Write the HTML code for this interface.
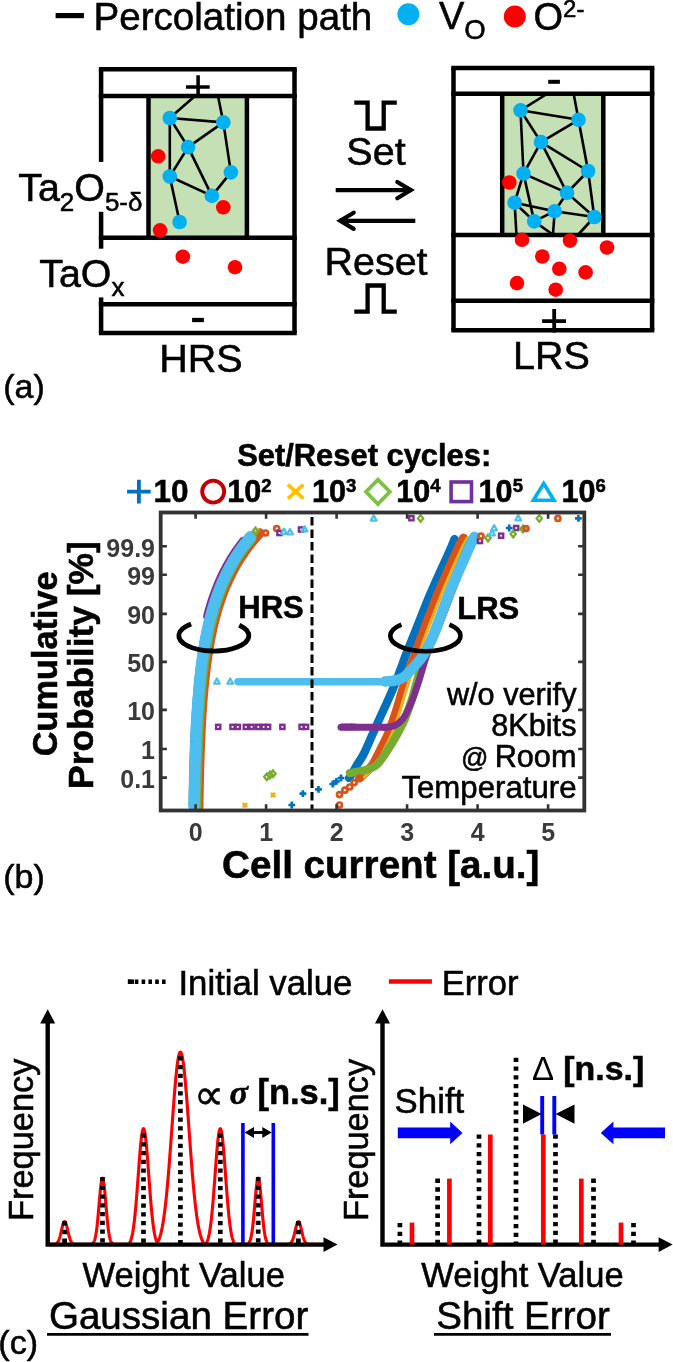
<!DOCTYPE html>
<html><head><meta charset="utf-8"><title>Figure</title>
<style>html,body{margin:0;padding:0;background:#fff}svg{display:block}text{font-family:"Liberation Sans",sans-serif;fill:#000;stroke:#000;stroke-width:0.55px}</style>
</head><body>
<svg width="673" height="1362" viewBox="0 0 673 1362">
<rect width="673" height="1362" fill="#fff"/>
<g id="panel-a">
<line x1="55.6" y1="15.6" x2="83.9" y2="15.6" stroke="#000" stroke-width="5.2"/>
<text x="93.5" y="29.7" font-size="38.6">Percolation path</text>
<circle cx="408.4" cy="14.2" r="11" fill="#00B0F0"/>
<text x="439" y="29" font-size="38">V<tspan font-size="27.5" dy="10">O</tspan></text>
<circle cx="514.8" cy="16.5" r="11" fill="#FF0000"/>
<text x="533.5" y="29.7" font-size="38">O<tspan font-size="24" dy="-13">2-</tspan></text>
<rect x="148.5" y="96" width="98.4" height="141.7" fill="#C5E0B4"/>
<rect x="502.2" y="93.8" width="101.09999999999997" height="141.10000000000002" fill="#C5E0B4"/>
<line x1="195" y1="96" x2="169.8" y2="118" stroke="#000" stroke-width="2.6"/>
<line x1="218" y1="96" x2="223.3" y2="122.4" stroke="#000" stroke-width="2.6"/>
<line x1="169.8" y1="118" x2="223.3" y2="122.4" stroke="#000" stroke-width="2.6"/>
<line x1="169.8" y1="118" x2="188.1" y2="147.1" stroke="#000" stroke-width="2.6"/>
<line x1="223.3" y1="122.4" x2="188.1" y2="147.1" stroke="#000" stroke-width="2.6"/>
<line x1="169.8" y1="118" x2="169.8" y2="176.5" stroke="#000" stroke-width="2.6"/>
<line x1="188.1" y1="147.1" x2="169.8" y2="176.5" stroke="#000" stroke-width="2.6"/>
<line x1="188.1" y1="147.1" x2="211.9" y2="195.9" stroke="#000" stroke-width="2.6"/>
<line x1="223.3" y1="122.4" x2="230.9" y2="172.4" stroke="#000" stroke-width="2.6"/>
<line x1="230.9" y1="172.4" x2="211.9" y2="195.9" stroke="#000" stroke-width="2.6"/>
<line x1="169.8" y1="176.5" x2="211.9" y2="195.9" stroke="#000" stroke-width="2.6"/>
<line x1="169.8" y1="176.5" x2="179.6" y2="222" stroke="#000" stroke-width="2.6"/>
<line x1="548.5" y1="93" x2="520.5" y2="110.3" stroke="#000" stroke-width="2.6"/>
<line x1="573.5" y1="93" x2="578.5" y2="119.8" stroke="#000" stroke-width="2.6"/>
<line x1="520.5" y1="110.3" x2="578.5" y2="119.8" stroke="#000" stroke-width="2.6"/>
<line x1="520.5" y1="110.3" x2="541" y2="142.1" stroke="#000" stroke-width="2.6"/>
<line x1="578.5" y1="119.8" x2="541" y2="142.1" stroke="#000" stroke-width="2.6"/>
<line x1="520.5" y1="110.3" x2="523.5" y2="173.6" stroke="#000" stroke-width="2.6"/>
<line x1="541" y1="142.1" x2="523.5" y2="173.6" stroke="#000" stroke-width="2.6"/>
<line x1="541" y1="142.1" x2="567" y2="192.9" stroke="#000" stroke-width="2.6"/>
<line x1="541" y1="142.1" x2="588.1" y2="171" stroke="#000" stroke-width="2.6"/>
<line x1="578.5" y1="119.8" x2="588.1" y2="171" stroke="#000" stroke-width="2.6"/>
<line x1="588.1" y1="171" x2="567" y2="192.9" stroke="#000" stroke-width="2.6"/>
<line x1="523.5" y1="173.6" x2="567" y2="192.9" stroke="#000" stroke-width="2.6"/>
<line x1="588.1" y1="171" x2="594.3" y2="217" stroke="#000" stroke-width="2.6"/>
<line x1="567" y1="192.9" x2="594.3" y2="217" stroke="#000" stroke-width="2.6"/>
<line x1="567" y1="192.9" x2="554.7" y2="211.2" stroke="#000" stroke-width="2.6"/>
<line x1="523.5" y1="173.6" x2="514.6" y2="202.7" stroke="#000" stroke-width="2.6"/>
<line x1="523.5" y1="173.6" x2="534.2" y2="221.4" stroke="#000" stroke-width="2.6"/>
<line x1="514.6" y1="202.7" x2="554.7" y2="211.2" stroke="#000" stroke-width="2.6"/>
<line x1="554.7" y1="211.2" x2="594.3" y2="217" stroke="#000" stroke-width="2.6"/>
<line x1="514.6" y1="202.7" x2="534.2" y2="221.4" stroke="#000" stroke-width="2.6"/>
<line x1="554.7" y1="211.2" x2="534.2" y2="221.4" stroke="#000" stroke-width="2.6"/>
<line x1="514.6" y1="202.7" x2="516.4" y2="234" stroke="#000" stroke-width="2.6"/>
<line x1="534.2" y1="221.4" x2="552" y2="234" stroke="#000" stroke-width="2.6"/>
<line x1="554.7" y1="211.2" x2="553" y2="234" stroke="#000" stroke-width="2.6"/>
<line x1="594.3" y1="217" x2="578.8" y2="234" stroke="#000" stroke-width="2.6"/>
<line x1="98.85" y1="69.2" x2="296.75" y2="69.2" stroke="#000" stroke-width="4.5" fill="none"/>
<line x1="98.85" y1="96" x2="296.75" y2="96" stroke="#000" stroke-width="4.5" fill="none"/>
<line x1="98.85" y1="237.7" x2="296.75" y2="237.7" stroke="#000" stroke-width="4.5" fill="none"/>
<line x1="98.85" y1="304.3" x2="296.75" y2="304.3" stroke="#000" stroke-width="4.5" fill="none"/>
<line x1="98.85" y1="333" x2="296.75" y2="333" stroke="#000" stroke-width="4.5" fill="none"/>
<line x1="294.5" y1="69.2" x2="294.5" y2="333" stroke="#000" stroke-width="4.5" fill="none"/>
<line x1="101.1" y1="69.2" x2="101.1" y2="161.9" stroke="#000" stroke-width="4.5" fill="none"/>
<line x1="101.1" y1="211.8" x2="101.1" y2="248.7" stroke="#000" stroke-width="4.5" fill="none"/>
<line x1="101.1" y1="297.4" x2="101.1" y2="333" stroke="#000" stroke-width="4.5" fill="none"/>
<line x1="148.5" y1="96" x2="148.5" y2="237.7" stroke="#000" stroke-width="4.5" fill="none"/>
<line x1="246.9" y1="96" x2="246.9" y2="237.7" stroke="#000" stroke-width="4.5" fill="none"/>
<line x1="451.25" y1="68" x2="654.35" y2="68" stroke="#000" stroke-width="4.5" fill="none"/>
<line x1="451.25" y1="93.8" x2="654.35" y2="93.8" stroke="#000" stroke-width="4.5" fill="none"/>
<line x1="451.25" y1="234.9" x2="654.35" y2="234.9" stroke="#000" stroke-width="4.5" fill="none"/>
<line x1="451.25" y1="300.8" x2="654.35" y2="300.8" stroke="#000" stroke-width="4.5" fill="none"/>
<line x1="451.25" y1="330.3" x2="654.35" y2="330.3" stroke="#000" stroke-width="4.5" fill="none"/>
<line x1="652.1" y1="68" x2="652.1" y2="330.3" stroke="#000" stroke-width="4.5" fill="none"/>
<line x1="453.5" y1="68" x2="453.5" y2="330.3" stroke="#000" stroke-width="4.5" fill="none"/>
<line x1="502.2" y1="93.8" x2="502.2" y2="234.9" stroke="#000" stroke-width="4.5" fill="none"/>
<line x1="603.3" y1="93.8" x2="603.3" y2="234.9" stroke="#000" stroke-width="4.5" fill="none"/>
<circle cx="169.8" cy="118" r="7.3" fill="#00B0F0"/>
<circle cx="223.3" cy="122.4" r="7.3" fill="#00B0F0"/>
<circle cx="188.1" cy="147.1" r="7.3" fill="#00B0F0"/>
<circle cx="169.8" cy="176.5" r="7.3" fill="#00B0F0"/>
<circle cx="230.9" cy="172.4" r="7.3" fill="#00B0F0"/>
<circle cx="211.9" cy="195.9" r="7.3" fill="#00B0F0"/>
<circle cx="179.6" cy="222" r="7.3" fill="#00B0F0"/>
<circle cx="520.5" cy="110.3" r="7.3" fill="#00B0F0"/>
<circle cx="578.5" cy="119.8" r="7.3" fill="#00B0F0"/>
<circle cx="541" cy="142.1" r="7.3" fill="#00B0F0"/>
<circle cx="523.5" cy="173.6" r="7.3" fill="#00B0F0"/>
<circle cx="588.1" cy="171" r="7.3" fill="#00B0F0"/>
<circle cx="567" cy="192.9" r="7.3" fill="#00B0F0"/>
<circle cx="514.6" cy="202.7" r="7.3" fill="#00B0F0"/>
<circle cx="554.7" cy="211.2" r="7.3" fill="#00B0F0"/>
<circle cx="534.2" cy="221.4" r="7.3" fill="#00B0F0"/>
<circle cx="594.3" cy="217" r="7.3" fill="#00B0F0"/>
<circle cx="158.2" cy="156.3" r="7.3" fill="#FF0000"/>
<circle cx="223.3" cy="207.3" r="7.3" fill="#FF0000"/>
<circle cx="160.1" cy="230.3" r="7.3" fill="#FF0000"/>
<circle cx="182.8" cy="256.7" r="7.3" fill="#FF0000"/>
<circle cx="235" cy="267.2" r="7.3" fill="#FF0000"/>
<circle cx="509.3" cy="182.5" r="7.3" fill="#FF0000"/>
<circle cx="522" cy="239.8" r="7.3" fill="#FF0000"/>
<circle cx="570" cy="240.6" r="7.3" fill="#FF0000"/>
<circle cx="607" cy="247.5" r="7.3" fill="#FF0000"/>
<circle cx="542.3" cy="256.5" r="7.3" fill="#FF0000"/>
<circle cx="559.3" cy="268.8" r="7.3" fill="#FF0000"/>
<circle cx="585.6" cy="272.4" r="7.3" fill="#FF0000"/>
<circle cx="517" cy="283.1" r="7.3" fill="#FF0000"/>
<circle cx="555.7" cy="289.7" r="7.3" fill="#FF0000"/>
<path d="M186 87H209.7M198.1 75.2V96" stroke="#000" stroke-width="3.5" fill="none"/>
<line x1="192.1" y1="320" x2="203.9" y2="320" stroke="#000" stroke-width="4.3"/>
<line x1="548.2" y1="81.8" x2="559.9" y2="81.8" stroke="#000" stroke-width="4"/>
<path d="M542.1 321.1H566M554.2 308.9V332.6" stroke="#000" stroke-width="3.8" fill="none"/>
<text x="18.2" y="201.1" font-size="39.4">Ta<tspan font-size="26" dy="9.5">2</tspan><tspan dy="-9.5">O</tspan><tspan font-size="26" dy="9.5">5-δ</tspan></text>
<text x="39.2" y="287.4" font-size="39.4">TaO<tspan font-size="26" dy="9">x</tspan></text>
<text x="200.9" y="371.5" font-size="39.5" text-anchor="middle">HRS</text>
<text x="551.5" y="368.5" font-size="39.5" text-anchor="middle">LRS</text>
<text x="3.2" y="398.4" font-size="34">(a)</text>
<path d="M354.3 102.7H367.6V128.5H383.7V102.7H396.8" stroke="#000" stroke-width="4.3" fill="none"/>
<text x="376" y="164.6" font-size="39.5" text-anchor="middle">Set</text>
<path d="M335.7 190.1H411" stroke="#000" stroke-width="4.2" fill="none"/><path d="M397.3 182L410.8 190.1L397.3 198.2" stroke="#000" stroke-width="4.2" fill="none" stroke-linecap="round"/>
<path d="M415.3 220.8H340" stroke="#000" stroke-width="4.2" fill="none"/><path d="M353.7 212.7L340.2 220.8L353.7 228.9" stroke="#000" stroke-width="4.2" fill="none" stroke-linecap="round"/>
<text x="376" y="275.2" font-size="39.5" text-anchor="middle">Reset</text>
<path d="M354.3 311.7H367.6V285.5H383.7V311.7H396.8" stroke="#000" stroke-width="4.3" fill="none"/>
</g>
<g id="panel-b">
<text x="364.2" y="465.5" font-size="30.9" font-weight="bold" text-anchor="middle">Set/Reset cycles:</text>
<path d="M127.1 491.6H150.7M138.9 479.8V503.5" stroke="#0072BD" stroke-width="3.8" fill="none"/>
<text x="153.6" y="502.3" font-size="31.5" font-weight="bold">10</text>
<circle cx="213.2" cy="491.6" r="11" stroke="#C00000" stroke-width="3.9" fill="none"/>
<text x="227.3" y="502.3" font-size="30.6" font-weight="bold">10<tspan font-size="18.5" dy="-10.2">2</tspan></text>
<path d="M287.9 484.7L303.5 498.7M303.5 484.7L287.9 498.7" stroke="#FFC000" stroke-width="3.7" fill="none"/>
<text x="311.9" y="502.3" font-size="30.6" font-weight="bold">10<tspan font-size="18.5" dy="-10.2">3</tspan></text>
<path d="M377.9 479.6L389.8 491.8L377.9 504L366 491.8Z" stroke="#7CC142" stroke-width="3.7" fill="none"/>
<text x="396.2" y="502.3" font-size="30.6" font-weight="bold">10<tspan font-size="18.5" dy="-10.2">4</tspan></text>
<rect x="451.1" y="482" width="20.4" height="19.6" stroke="#7030A0" stroke-width="3.6" fill="none"/>
<text x="478.6" y="502.3" font-size="30.6" font-weight="bold">10<tspan font-size="18.5" dy="-10.2">5</tspan></text>
<path d="M543.7 483.5L554 500.2H533.4Z" stroke="#00B0F0" stroke-width="3.6" fill="none"/>
<text x="561.5" y="502.3" font-size="30.6" font-weight="bold">10<tspan font-size="18.5" dy="-10.2">6</tspan></text>
<path d="M193.1 806.1C193.1 803.9 193.2 797.5 193.3 793.3C193.4 789.0 193.5 784.7 193.6 780.5C193.7 776.2 193.8 771.9 193.9 767.7C194.0 763.4 194.1 759.1 194.3 754.9C194.4 750.6 194.6 746.3 194.8 742.1C194.9 737.8 195.1 733.5 195.3 729.3C195.5 725.0 195.8 720.7 196.0 716.5C196.3 712.2 196.6 707.9 196.9 703.6C197.2 699.4 197.5 695.1 197.9 690.8C198.3 686.6 198.7 682.3 199.1 678.0C199.6 673.8 200.0 669.5 200.6 665.2C201.1 661.0 201.7 656.7 202.4 652.4C203.0 648.2 203.8 643.9 204.6 639.6C205.4 635.4 206.2 631.1 207.2 626.8C208.1 622.6 209.2 618.3 210.3 614.0C211.5 609.7 212.8 605.5 214.2 601.2C215.6 596.9 217.1 592.7 218.8 588.4C220.5 584.1 222.4 579.9 224.4 575.6C226.5 571.3 228.7 567.1 231.2 562.8C233.7 558.5 236.4 554.3 239.4 550.0C242.4 545.7 247.6 539.3 249.3 537.2" stroke="#0072BD" stroke-width="9" fill="none" stroke-linecap="round" stroke-linejoin="round"/>
<path d="M198.7 807.6C198.7 805.4 198.8 798.9 198.9 794.5C199.0 790.2 199.1 785.8 199.2 781.4C199.3 777.1 199.4 772.7 199.5 768.4C199.6 764.0 199.8 759.7 199.9 755.3C200.1 750.9 200.2 746.6 200.4 742.2C200.6 737.9 200.8 733.5 201.0 729.2C201.2 724.8 201.5 720.4 201.7 716.1C202.0 711.7 202.3 707.4 202.6 703.0C202.9 698.7 203.3 694.3 203.7 689.9C204.1 685.6 204.5 681.2 205.0 676.9C205.5 672.5 206.0 668.1 206.6 663.8C207.2 659.4 207.8 655.1 208.5 650.7C209.2 646.4 210.0 642.0 210.8 637.6C211.7 633.3 212.6 628.9 213.6 624.6C214.7 620.2 215.8 615.9 217.1 611.5C218.3 607.1 219.7 602.8 221.2 598.4C222.8 594.1 224.4 589.7 226.3 585.4C228.2 581.0 230.2 576.6 232.4 572.3C234.7 567.9 237.1 563.6 239.9 559.2C242.6 554.9 245.6 550.5 248.9 546.1C252.2 541.8 258.0 535.3 259.9 533.1" stroke="#D95319" stroke-width="9.5" fill="none" stroke-linecap="round" stroke-linejoin="round"/>
<path d="M197.6 804.1C197.6 801.9 197.7 795.4 197.8 791.0C197.9 786.7 198.0 782.4 198.1 778.0C198.2 773.7 198.3 769.3 198.4 765.0C198.5 760.6 198.7 756.3 198.8 751.9C199.0 747.6 199.1 743.2 199.3 738.9C199.5 734.6 199.7 730.2 199.9 725.9C200.1 721.5 200.4 717.2 200.6 712.8C200.9 708.5 201.2 704.1 201.5 699.8C201.8 695.4 202.2 691.1 202.6 686.8C203.0 682.4 203.4 678.1 203.9 673.7C204.3 669.4 204.8 665.0 205.4 660.7C206.0 656.3 206.6 652.0 207.3 647.6C208.0 643.3 208.8 639.0 209.6 634.6C210.5 630.3 211.4 625.9 212.4 621.6C213.5 617.2 214.6 612.9 215.8 608.5C217.1 604.2 218.4 599.8 219.9 595.5C221.5 591.2 223.1 586.8 224.9 582.5C226.8 578.1 228.8 573.8 231.0 569.4C233.2 565.1 235.6 560.7 238.3 556.4C241.1 552.0 244.0 547.7 247.3 543.4C250.5 539.0 256.3 532.5 258.1 530.3" stroke="#EDB120" stroke-width="3" fill="none" stroke-linecap="round" stroke-linejoin="round"/>
<path d="M196.9 806.1C196.9 803.9 197.0 797.2 197.1 792.7C197.2 788.2 197.3 783.8 197.4 779.3C197.5 774.8 197.6 770.4 197.7 765.9C197.9 761.5 198.0 757.0 198.2 752.5C198.3 748.1 198.5 743.6 198.7 739.1C198.9 734.7 199.1 730.2 199.3 725.8C199.5 721.3 199.8 716.8 200.1 712.4C200.4 707.9 200.7 703.4 201.0 699.0C201.4 694.5 201.7 690.0 202.2 685.6C202.6 681.1 203.0 676.7 203.5 672.2C204.1 667.7 204.6 663.3 205.2 658.8C205.9 654.3 206.6 649.9 207.3 645.4C208.1 641.0 208.9 636.5 209.8 632.0C210.8 627.6 211.8 623.1 212.9 618.6C214.1 614.2 215.3 609.7 216.7 605.3C218.1 600.8 219.6 596.3 221.3 591.9C223.0 587.4 224.8 582.9 226.9 578.5C228.9 574.0 231.2 569.6 233.7 565.1C236.2 560.6 238.9 556.2 242.0 551.7C245.1 547.2 250.5 540.5 252.1 538.3" stroke="#77AC30" stroke-width="9" fill="none" stroke-linecap="round" stroke-linejoin="round"/>
<path d="M207.2 616.0C207.8 613.9 209.4 607.6 210.7 603.5C212.0 599.3 213.5 595.2 215.0 591.0C216.6 586.8 218.3 582.7 220.2 578.5C222.1 574.3 224.1 570.2 226.4 566.0C228.7 561.9 231.2 557.7 233.9 553.5C236.6 549.4 241.4 543.1 242.9 541.1" stroke="#7E2F8E" stroke-width="8" fill="none" stroke-linecap="round" stroke-linejoin="round"/>
<path d="M349.0 778.0C349.4 777.5 349.9 777.0 351.2 774.8C352.5 772.6 354.9 768.5 357.0 765.0C359.1 761.5 361.0 759.3 363.7 754.0C366.4 748.7 369.9 740.1 373.0 733.2C376.1 726.3 379.3 719.3 382.4 712.4C385.5 705.5 389.0 698.3 391.8 691.6C394.6 684.9 397.1 678.3 399.4 672.3C401.7 666.3 403.2 661.9 405.6 655.6C408.0 649.4 409.7 645.2 413.9 634.8C418.1 624.4 424.7 607.1 430.6 593.2C436.5 579.3 445.3 560.6 449.3 551.6C453.3 542.6 453.6 541.1 454.5 539.0" stroke="#0072BD" stroke-width="8.3" fill="none" stroke-linecap="round" stroke-linejoin="round"/>
<path d="M359.5 778.0C360.6 777.0 363.8 774.3 366.0 772.0C368.2 769.7 370.5 768.2 373.0 764.4C375.5 760.6 378.4 754.2 381.0 749.0C383.6 743.8 386.1 739.3 388.6 733.2C391.1 727.1 393.7 719.3 396.0 712.4C398.3 705.5 400.1 698.3 402.2 691.6C404.3 684.9 406.3 678.0 408.4 672.0C410.5 666.0 412.7 661.8 415.0 655.6C417.3 649.4 418.3 645.2 422.2 634.8C426.1 624.4 432.6 607.1 438.3 593.2C444.0 579.3 452.4 560.8 456.6 551.6C460.8 542.4 462.4 540.3 463.5 538.0" stroke="#D95319" stroke-width="9" fill="none" stroke-linecap="round" stroke-linejoin="round"/>
<path d="M363.1 778.0C364.2 777.0 367.4 774.3 369.6 772.0C371.9 769.7 374.1 768.2 376.6 764.4C379.1 760.6 382.0 754.2 384.6 749.0C387.2 743.8 389.7 739.3 392.2 733.2C394.7 727.1 397.3 719.3 399.6 712.4C401.9 705.5 403.7 698.3 405.8 691.6C407.9 684.9 409.9 678.0 412.0 672.0C414.1 666.0 416.3 661.8 418.6 655.6C420.9 649.4 421.9 645.2 425.8 634.8C429.7 624.4 436.2 607.1 441.9 593.2C447.6 579.3 456.0 560.8 460.2 551.6C464.4 542.4 466.0 540.3 467.1 538.0" stroke="#EDB120" stroke-width="3" fill="none" stroke-linecap="round" stroke-linejoin="round"/>
<path d="M350.0 773.0C351.0 772.8 353.5 772.5 356.0 772.0C358.5 771.5 361.5 771.3 365.0 770.0C368.5 768.7 372.7 768.8 377.2 764.4C381.7 760.0 387.5 750.5 391.8 743.6C396.1 736.7 400.0 729.7 403.2 722.8C406.4 715.9 408.7 709.0 411.0 702.0C413.3 695.0 415.0 688.0 417.0 681.0C419.0 674.0 420.5 667.5 423.0 660.0C425.5 652.5 427.8 646.8 432.0 636.0C436.2 625.2 442.5 608.8 448.0 595.0C453.5 581.2 461.2 562.2 465.0 553.0C468.8 543.8 470.0 542.2 471.0 540.0" stroke="#77AC30" stroke-width="8.2" fill="none" stroke-linecap="round" stroke-linejoin="round"/>
<polyline points="341.0,727.3 386.0,727.3" stroke="#7E2F8E" stroke-width="7" fill="none" stroke-linecap="round" stroke-linejoin="round" />
<path d="M385.0 727.3C386.7 727.0 392.0 727.0 395.0 725.5C398.0 724.0 400.4 722.5 403.2 718.6C405.9 714.7 408.9 708.2 411.5 702.0C414.1 695.8 416.6 688.1 418.8 681.2C421.1 674.3 423.2 665.9 425.0 660.4C426.8 654.9 427.3 653.4 429.5 648.0C431.7 642.6 434.6 636.5 438.0 628.0C441.4 619.5 445.2 609.5 450.0 597.0C454.8 584.5 463.2 562.5 467.0 553.0C470.8 543.5 472.0 542.2 473.0 540.0" stroke="#7E2F8E" stroke-width="6.8" fill="none" stroke-linecap="round" stroke-linejoin="round"/>
<path d="M194.1 806.1C194.1 803.9 194.2 797.5 194.3 793.3C194.4 789.0 194.5 784.7 194.6 780.4C194.7 776.2 194.8 771.9 194.9 767.6C195.0 763.3 195.1 759.1 195.3 754.8C195.4 750.5 195.6 746.2 195.8 742.0C195.9 737.7 196.1 733.4 196.3 729.1C196.5 724.9 196.8 720.6 197.0 716.3C197.3 712.1 197.6 707.8 197.9 703.5C198.2 699.2 198.5 695.0 198.9 690.7C199.3 686.4 199.7 682.1 200.1 677.9C200.6 673.6 201.1 669.3 201.6 665.0C202.2 660.8 202.8 656.5 203.4 652.2C204.1 647.9 204.8 643.7 205.6 639.4C206.4 635.1 207.3 630.8 208.2 626.6C209.2 622.3 210.2 618.0 211.4 613.8C212.6 609.5 213.9 605.2 215.3 600.9C216.7 596.7 218.2 592.4 219.9 588.1C221.7 583.8 223.5 579.6 225.6 575.3C227.7 571.0 229.9 566.7 232.4 562.5C234.9 558.2 237.6 553.9 240.6 549.6C243.7 545.4 248.9 539.0 250.6 536.8" stroke="#4DBEEE" stroke-width="11.5" fill="none" stroke-linecap="round" stroke-linejoin="round"/>
<polyline points="238.0,681.8 386.0,681.8" stroke="#4DBEEE" stroke-width="7.5" fill="none" stroke-linecap="round" stroke-linejoin="round" />
<path d="M385.0 681.5C386.7 681.3 391.8 681.2 395.0 680.5C398.2 679.8 400.9 679.2 404.0 677.0C407.1 674.8 410.4 670.7 413.6 667.0C416.9 663.3 420.1 660.4 423.5 655.0C426.9 649.6 429.4 645.1 433.7 634.8C438.0 624.5 443.7 607.1 449.3 593.2C454.9 579.3 463.2 561.0 467.4 551.6C471.6 542.2 473.1 539.4 474.3 537.0" stroke="#4DBEEE" stroke-width="10.5" fill="none" stroke-linecap="round" stroke-linejoin="round"/>
<rect x="216.1" y="724.8" width="4.2" height="4.2" stroke="#7E2F8E" stroke-width="2.4" fill="none"/>
<rect x="230.4" y="724.8" width="4.2" height="4.2" stroke="#7E2F8E" stroke-width="2.4" fill="none"/>
<rect x="235.70000000000002" y="724.8" width="4.2" height="4.2" stroke="#7E2F8E" stroke-width="2.4" fill="none"/>
<rect x="243.70000000000002" y="724.8" width="4.2" height="4.2" stroke="#7E2F8E" stroke-width="2.4" fill="none"/>
<rect x="249.5" y="724.8" width="4.2" height="4.2" stroke="#7E2F8E" stroke-width="2.4" fill="none"/>
<rect x="256.2" y="724.8" width="4.2" height="4.2" stroke="#7E2F8E" stroke-width="2.4" fill="none"/>
<rect x="261.59999999999997" y="724.8" width="4.2" height="4.2" stroke="#7E2F8E" stroke-width="2.4" fill="none"/>
<rect x="266.0" y="724.8" width="4.2" height="4.2" stroke="#7E2F8E" stroke-width="2.4" fill="none"/>
<rect x="280.29999999999995" y="724.8" width="4.2" height="4.2" stroke="#7E2F8E" stroke-width="2.4" fill="none"/>
<rect x="299.5" y="724.8" width="4.2" height="4.2" stroke="#7E2F8E" stroke-width="2.4" fill="none"/>
<rect x="303.9" y="724.8" width="4.2" height="4.2" stroke="#7E2F8E" stroke-width="2.4" fill="none"/>
<rect x="341.9" y="724.8" width="4.2" height="4.2" stroke="#7E2F8E" stroke-width="2.4" fill="none"/>
<rect x="346.9" y="724.8" width="4.2" height="4.2" stroke="#7E2F8E" stroke-width="2.4" fill="none"/>
<rect x="350.9" y="724.8" width="4.2" height="4.2" stroke="#7E2F8E" stroke-width="2.4" fill="none"/>
<path d="M216.9 678.5L219.8 683.72H214.0Z" stroke="#4DBEEE" stroke-width="2.2" fill="none" stroke-linejoin="round"/>
<path d="M230.2 678.5L233.1 683.72H227.29999999999998Z" stroke="#4DBEEE" stroke-width="2.2" fill="none" stroke-linejoin="round"/>
<path d="M266.8 773.5L269.44 776.8L266.8 780.0999999999999L264.16 776.8Z" stroke="#77AC30" stroke-width="2.3" fill="none"/>
<path d="M270 771.7L272.64 775L270 778.3L267.36 775Z" stroke="#77AC30" stroke-width="2.3" fill="none"/>
<path d="M273 770.4000000000001L275.64 773.7L273 777.0L270.36 773.7Z" stroke="#77AC30" stroke-width="2.3" fill="none"/>
<path d="M271.0 792.9L275.20000000000005 797.1M275.20000000000005 792.9L271.0 797.1" stroke="#EDB120" stroke-width="2.6" fill="none"/>
<path d="M242.8 803.1L247.0 807.3000000000001M247.0 803.1L242.8 807.3000000000001" stroke="#EDB120" stroke-width="2.6" fill="none"/>
<path d="M288.40000000000003 805H295.2M291.8 801.6V808.4" stroke="#0072BD" stroke-width="2.7" fill="none"/>
<path d="M299.5 793.7H306.29999999999995M302.9 790.3000000000001V797.1" stroke="#0072BD" stroke-width="2.7" fill="none"/>
<path d="M315.1 789.3H321.9M318.5 785.9V792.6999999999999" stroke="#0072BD" stroke-width="2.7" fill="none"/>
<path d="M329.40000000000003 784H336.2M332.8 780.6V787.4" stroke="#0072BD" stroke-width="2.7" fill="none"/>
<path d="M333.0 781.3H339.79999999999995M336.4 777.9V784.6999999999999" stroke="#0072BD" stroke-width="2.7" fill="none"/>
<path d="M337.6 778H344.4M341 774.6V781.4" stroke="#0072BD" stroke-width="2.7" fill="none"/>
<circle cx="339.5" cy="805" r="2.5" stroke="#D95319" stroke-width="2.7" fill="none"/>
<circle cx="339.5" cy="794.6" r="2.5" stroke="#D95319" stroke-width="2.7" fill="none"/>
<circle cx="344.8" cy="790.2" r="2.5" stroke="#D95319" stroke-width="2.7" fill="none"/>
<circle cx="349.7" cy="787" r="2.5" stroke="#D95319" stroke-width="2.7" fill="none"/>
<circle cx="354.2" cy="782.6" r="2.5" stroke="#D95319" stroke-width="2.7" fill="none"/>
<circle cx="359.5" cy="778" r="2.5" stroke="#D95319" stroke-width="2.7" fill="none"/>
<circle cx="276.7" cy="528.5" r="2.5" stroke="#D95319" stroke-width="2.7" fill="none"/>
<rect x="277.29999999999995" y="530.9" width="4.2" height="4.2" stroke="#7E2F8E" stroke-width="2.4" fill="none"/>
<path d="M284 528.6L286.9 533.82H281.1Z" stroke="#4DBEEE" stroke-width="2.2" fill="none" stroke-linejoin="round"/>
<path d="M290 529.1L292.9 534.32H287.1Z" stroke="#4DBEEE" stroke-width="2.2" fill="none" stroke-linejoin="round"/>
<rect x="298.9" y="527.4" width="4.2" height="4.2" stroke="#7E2F8E" stroke-width="2.4" fill="none"/>
<path d="M304.5 526.1L307.4 531.32H301.6Z" stroke="#4DBEEE" stroke-width="2.2" fill="none" stroke-linejoin="round"/>
<circle cx="265.5" cy="533" r="2.5" stroke="#D95319" stroke-width="2.7" fill="none"/>
<path d="M255.5 527.7L258.14 531L255.5 534.3L252.86 531Z" stroke="#77AC30" stroke-width="2.3" fill="none"/>
<rect x="477.9" y="538.9" width="4.2" height="4.2" stroke="#7E2F8E" stroke-width="2.4" fill="none"/>
<circle cx="481" cy="536" r="2.5" stroke="#D95319" stroke-width="2.7" fill="none"/>
<path d="M488 534.7L490.64 538L488 541.3L485.36 538Z" stroke="#77AC30" stroke-width="2.3" fill="none"/>
<path d="M492 530.1L494.9 535.32H489.1Z" stroke="#4DBEEE" stroke-width="2.2" fill="none" stroke-linejoin="round"/>
<path d="M494.1 525.1L497.0 530.32H491.20000000000005Z" stroke="#4DBEEE" stroke-width="2.2" fill="none" stroke-linejoin="round"/>
<rect x="499.0" y="533.6" width="4.2" height="4.2" stroke="#7E2F8E" stroke-width="2.4" fill="none"/>
<path d="M505.8 528H512.6M509.2 524.6V531.4" stroke="#0072BD" stroke-width="2.7" fill="none"/>
<rect x="514.1" y="525.9" width="4.2" height="4.2" stroke="#7E2F8E" stroke-width="2.4" fill="none"/>
<path d="M513.2 530.7L515.84 534L513.2 537.3L510.56000000000006 534Z" stroke="#77AC30" stroke-width="2.3" fill="none"/>
<path d="M523 525.7L525.64 529L523 532.3L520.36 529Z" stroke="#77AC30" stroke-width="2.3" fill="none"/>
<circle cx="526" cy="528.6" r="2.5" stroke="#D95319" stroke-width="2.7" fill="none"/>
<rect x="409.29999999999995" y="516.1" width="4.2" height="4.2" stroke="#7E2F8E" stroke-width="2.4" fill="none"/>
<path d="M420.6 515.1L423.24 518.4L420.6 521.6999999999999L417.96000000000004 518.4Z" stroke="#77AC30" stroke-width="2.3" fill="none"/>
<path d="M518.2 515.1L521.1 520.32H515.3000000000001Z" stroke="#4DBEEE" stroke-width="2.2" fill="none" stroke-linejoin="round"/>
<path d="M539.3 515.1L541.9399999999999 518.4L539.3 521.6999999999999L536.66 518.4Z" stroke="#77AC30" stroke-width="2.3" fill="none"/>
<circle cx="557.9" cy="518.4" r="2.5" stroke="#D95319" stroke-width="2.7" fill="none"/>
<path d="M575.0 518.4H581.8M578.4 515.0V521.8" stroke="#0072BD" stroke-width="2.7" fill="none"/>
<path d="M373.7 515.4L376.59999999999997 520.62H370.8Z" stroke="#4DBEEE" stroke-width="2.2" fill="none" stroke-linejoin="round"/>
<line x1="312" y1="514" x2="312" y2="810" stroke="#000" stroke-width="3" stroke-dasharray="8.5 4" stroke-dashoffset="9.5"/>
<path d="M239.2 625.2A35 15.3 0 1 1 191.1 624.1" stroke="#000" stroke-width="4.8" fill="none"/>
<path d="M449.4 624.6A35.1 15.4 0 1 1 401.4 624.6" stroke="#000" stroke-width="4.6" fill="none"/>
<text x="238.3" y="617.6" font-size="31" font-weight="bold">HRS</text>
<text x="457.3" y="618.5" font-size="31" font-weight="bold">LRS</text>
<rect x="160.7" y="512.5" width="423.59999999999997" height="298.0" stroke="#333" stroke-width="3.8" fill="none"/>
<path d="M160.7 546.2h6.2M584.3 546.2h-6.2" stroke="#333" stroke-width="2.6"/>
<text x="155" y="556.5" font-size="25" font-weight="bold" style="fill:#3a3a3a;stroke:none" text-anchor="end">99.9</text>
<path d="M160.7 574.8h6.2M584.3 574.8h-6.2" stroke="#333" stroke-width="2.6"/>
<text x="155" y="585.1" font-size="25" font-weight="bold" style="fill:#3a3a3a;stroke:none" text-anchor="end">99</text>
<path d="M160.7 613.9h6.2M584.3 613.9h-6.2" stroke="#333" stroke-width="2.6"/>
<text x="155" y="624.2" font-size="25" font-weight="bold" style="fill:#3a3a3a;stroke:none" text-anchor="end">90</text>
<path d="M160.7 661.9h6.2M584.3 661.9h-6.2" stroke="#333" stroke-width="2.6"/>
<text x="155" y="672.2" font-size="25" font-weight="bold" style="fill:#3a3a3a;stroke:none" text-anchor="end">50</text>
<path d="M160.7 709.9h6.2M584.3 709.9h-6.2" stroke="#333" stroke-width="2.6"/>
<text x="155" y="720.2" font-size="25" font-weight="bold" style="fill:#3a3a3a;stroke:none" text-anchor="end">10</text>
<path d="M160.7 749.0h6.2M584.3 749.0h-6.2" stroke="#333" stroke-width="2.6"/>
<text x="155" y="759.3" font-size="25" font-weight="bold" style="fill:#3a3a3a;stroke:none" text-anchor="end">1</text>
<path d="M160.7 777.6h6.2M584.3 777.6h-6.2" stroke="#333" stroke-width="2.6"/>
<text x="155" y="787.9" font-size="25" font-weight="bold" style="fill:#3a3a3a;stroke:none" text-anchor="end">0.1</text>
<path d="M195.6 512.5v6.2M195.6 810.5v-6.2" stroke="#333" stroke-width="2.6"/>
<text x="195.6" y="840.8" font-size="25" font-weight="bold" style="fill:#3a3a3a;stroke:none" text-anchor="middle">0</text>
<path d="M266.1 512.5v6.2M266.1 810.5v-6.2" stroke="#333" stroke-width="2.6"/>
<text x="266.1" y="840.8" font-size="25" font-weight="bold" style="fill:#3a3a3a;stroke:none" text-anchor="middle">1</text>
<path d="M336.6 512.5v6.2M336.6 810.5v-6.2" stroke="#333" stroke-width="2.6"/>
<text x="336.6" y="840.8" font-size="25" font-weight="bold" style="fill:#3a3a3a;stroke:none" text-anchor="middle">2</text>
<path d="M407.1 512.5v6.2M407.1 810.5v-6.2" stroke="#333" stroke-width="2.6"/>
<text x="407.1" y="840.8" font-size="25" font-weight="bold" style="fill:#3a3a3a;stroke:none" text-anchor="middle">3</text>
<path d="M477.6 512.5v6.2M477.6 810.5v-6.2" stroke="#333" stroke-width="2.6"/>
<text x="477.6" y="840.8" font-size="25" font-weight="bold" style="fill:#3a3a3a;stroke:none" text-anchor="middle">4</text>
<path d="M548.1 512.5v6.2M548.1 810.5v-6.2" stroke="#333" stroke-width="2.6"/>
<text x="548.1" y="840.8" font-size="25" font-weight="bold" style="fill:#3a3a3a;stroke:none" text-anchor="middle">5</text>
<text x="576.5" y="704.8" font-size="30.7" text-anchor="end">w/o verify</text>
<text x="576.5" y="735.9" font-size="30.7" text-anchor="end">8Kbits</text>
<text x="576.5" y="767.0" font-size="30.7" text-anchor="end"><tspan font-size="27">@</tspan>&#8201;Room</text>
<text x="576.5" y="798.1" font-size="31.2" text-anchor="end">Temperature</text>
<text x="380.75" y="877.9" font-size="38.6" font-weight="bold" text-anchor="middle">Cell current [a.u.]</text>
<text transform="translate(56.8 663.8) rotate(-90)" font-size="34.3" font-weight="bold" text-anchor="middle">Cumulative</text>
<text transform="translate(92.9 665) rotate(-90)" font-size="35.4" font-weight="bold" text-anchor="middle">Probability [%]</text>
<text x="3.2" y="888" font-size="34">(b)</text>
</g>
<g id="panel-c">
<line x1="127.8" y1="981.7" x2="167.2" y2="981.7" stroke="#000" stroke-width="4.4" stroke-dasharray="3.6 3.2" stroke-dashoffset="-0.2"/>
<line x1="127.8" y1="981.7" x2="134" y2="981.7" stroke="#000" stroke-width="4.4"/>
<text x="178.4" y="994.6" font-size="34.8">Initial value</text>
<line x1="388.9" y1="981.5" x2="431.9" y2="981.5" stroke="#FF0000" stroke-width="4.6"/>
<text x="441.7" y="994.6" font-size="34.6">Error</text>
<text transform="translate(33.4 1139.8) rotate(-90)" font-size="34.4" text-anchor="middle">Frequency</text>
<text transform="translate(368.3 1140) rotate(-90)" font-size="34.3" text-anchor="middle">Frequency</text>
<polyline points="49.00,1244.3 49.25,1244.3 49.50,1244.3 49.75,1244.3 50.00,1244.3 50.25,1244.3 50.50,1244.3 50.75,1244.3 51.00,1244.3 51.25,1244.3 51.50,1244.3 51.75,1244.3 52.00,1244.3 52.25,1244.3 52.50,1244.3 52.75,1244.3 53.00,1244.3 53.25,1244.3 53.50,1244.3 53.75,1244.3 54.00,1244.3 54.25,1244.3 54.50,1244.2 54.75,1244.2 55.00,1244.1 55.25,1244.1 55.50,1244.0 55.75,1243.9 56.00,1243.8 56.25,1243.6 56.50,1243.5 56.75,1243.3 57.00,1243.0 57.25,1242.8 57.50,1242.4 57.75,1242.1 58.00,1241.7 58.25,1241.2 58.50,1240.7 58.75,1240.1 59.00,1239.5 59.25,1238.8 59.50,1238.0 59.75,1237.2 60.00,1236.3 60.25,1235.3 60.50,1234.4 60.75,1233.3 61.00,1232.3 61.25,1231.2 61.50,1230.1 61.75,1229.1 62.00,1228.0 62.25,1227.0 62.50,1226.0 62.75,1225.1 63.00,1224.3 63.25,1223.5 63.50,1222.9 63.75,1222.4 64.00,1222.0 64.25,1221.7 64.50,1221.6 64.75,1221.6 65.00,1221.8 65.25,1222.1 65.50,1222.5 65.75,1223.0 66.00,1223.7 66.25,1224.4 66.50,1225.3 66.75,1226.2 67.00,1227.2 67.25,1228.2 67.50,1229.3 67.75,1230.4 68.00,1231.4 68.25,1232.5 68.50,1233.5 68.75,1234.6 69.00,1235.5 69.25,1236.5 69.50,1237.3 69.75,1238.1 70.00,1238.9 70.25,1239.6 70.50,1240.2 70.75,1240.8 71.00,1241.3 71.25,1241.8 71.50,1242.2 71.75,1242.5 72.00,1242.8 72.25,1243.1 72.50,1243.3 72.75,1243.5 73.00,1243.7 73.25,1243.8 73.50,1243.9 73.75,1244.0 74.00,1244.1 74.25,1244.1 74.50,1244.2 74.75,1244.2 75.00,1244.3 75.25,1244.3 75.50,1244.3 75.75,1244.3 76.00,1244.3 76.25,1244.3 76.50,1244.3 76.75,1244.3 77.00,1244.3 77.25,1244.3 77.50,1244.3 77.75,1244.3 78.00,1244.3 78.25,1244.3 78.50,1244.3 78.75,1244.3 79.00,1244.3 79.25,1244.3 79.50,1244.3 79.75,1244.3 80.00,1244.3 80.25,1244.3 80.50,1244.3 80.75,1244.3 81.00,1244.3 81.25,1244.3 81.50,1244.3 81.75,1244.3 82.00,1244.3 82.25,1244.3 82.50,1244.3 82.75,1244.3 83.00,1244.3 83.25,1244.3 83.50,1244.3 83.75,1244.3 84.00,1244.3 84.25,1244.3 84.50,1244.3 84.75,1244.3 85.00,1244.3 85.25,1244.3 85.50,1244.3 85.75,1244.3 86.00,1244.3 86.25,1244.3 86.50,1244.3 86.75,1244.3 87.00,1244.3 87.25,1244.3 87.50,1244.3 87.75,1244.3 88.00,1244.3 88.25,1244.3 88.50,1244.3 88.75,1244.3 89.00,1244.3 89.25,1244.3 89.50,1244.3 89.75,1244.3 90.00,1244.3 90.25,1244.3 90.50,1244.3 90.75,1244.3 91.00,1244.3 91.25,1244.3 91.50,1244.2 91.75,1244.1 92.00,1244.0 92.25,1243.9 92.50,1243.7 92.75,1243.5 93.00,1243.2 93.25,1242.9 93.50,1242.6 93.75,1242.1 94.00,1241.6 94.25,1241.1 94.50,1240.4 94.75,1239.6 95.00,1238.7 95.25,1237.7 95.50,1236.6 95.75,1235.3 96.00,1233.9 96.25,1232.3 96.50,1230.6 96.75,1228.7 97.00,1226.6 97.25,1224.4 97.50,1222.0 97.75,1219.5 98.00,1216.9 98.25,1214.1 98.50,1211.3 98.75,1208.4 99.00,1205.4 99.25,1202.5 99.50,1199.5 99.75,1196.6 100.00,1193.8 100.25,1191.2 100.50,1188.7 100.75,1186.3 101.00,1184.3 101.25,1182.4 101.50,1180.9 101.75,1179.7 102.00,1178.8 102.25,1178.3 102.50,1178.1 102.75,1178.3 103.00,1178.8 103.25,1179.7 103.50,1180.9 103.75,1182.4 104.00,1184.3 104.25,1186.3 104.50,1188.7 104.75,1191.2 105.00,1193.8 105.25,1196.6 105.50,1199.5 105.75,1202.5 106.00,1205.4 106.25,1208.4 106.50,1211.3 106.75,1214.1 107.00,1216.9 107.25,1219.5 107.50,1222.0 107.75,1224.4 108.00,1226.6 108.25,1228.7 108.50,1230.6 108.75,1232.3 109.00,1233.9 109.25,1235.3 109.50,1236.6 109.75,1237.7 110.00,1238.7 110.25,1239.6 110.50,1240.4 110.75,1241.1 111.00,1241.6 111.25,1242.1 111.50,1242.6 111.75,1242.9 112.00,1243.2 112.25,1243.5 112.50,1243.7 112.75,1243.9 113.00,1244.0 113.25,1244.1 113.50,1244.2 113.75,1244.3 114.00,1244.3 114.25,1244.3 114.50,1244.3 114.75,1244.3 115.00,1244.3 115.25,1244.3 115.50,1244.3 115.75,1244.3 116.00,1244.3 116.25,1244.3 116.50,1244.3 116.75,1244.3 117.00,1244.3 117.25,1244.3 117.50,1244.3 117.75,1244.3 118.00,1244.3 118.25,1244.3 118.50,1244.3 118.75,1244.3 119.00,1244.3 119.25,1244.3 119.50,1244.3 119.75,1244.3 120.00,1244.3 120.25,1244.3 120.50,1244.3 120.75,1244.3 121.00,1244.3 121.25,1244.3 121.50,1244.3 121.75,1244.3 122.00,1244.3 122.25,1244.3 122.50,1244.3 122.75,1244.3 123.00,1244.3 123.25,1244.3 123.50,1244.3 123.75,1244.3 124.00,1244.3 124.25,1244.3 124.50,1244.3 124.75,1244.3 125.00,1244.3 125.25,1244.3 125.50,1244.3 125.75,1244.3 126.00,1244.3 126.25,1244.3 126.50,1244.3 126.75,1244.3 127.00,1244.3 127.25,1244.3 127.50,1244.3 127.75,1244.3 128.00,1244.3 128.25,1244.3 128.50,1244.3 128.75,1244.3 129.00,1244.1 129.25,1243.7 129.50,1243.3 129.75,1242.8 130.00,1242.3 130.25,1241.8 130.50,1241.2 130.75,1240.5 131.00,1239.7 131.25,1238.9 131.50,1238.0 131.75,1237.0 132.00,1235.9 132.25,1234.8 132.50,1233.5 132.75,1232.2 133.00,1230.7 133.25,1229.1 133.50,1227.4 133.75,1225.6 134.00,1223.7 134.25,1221.7 134.50,1219.5 134.75,1217.2 135.00,1214.8 135.25,1212.3 135.50,1209.7 135.75,1206.9 136.00,1204.1 136.25,1201.2 136.50,1198.1 136.75,1195.0 137.00,1191.8 137.25,1188.5 137.50,1185.2 137.75,1181.9 138.00,1178.5 138.25,1175.1 138.50,1171.6 138.75,1168.3 139.00,1164.9 139.25,1161.6 139.50,1158.3 139.75,1155.2 140.00,1152.1 140.25,1149.2 140.50,1146.4 140.75,1143.7 141.00,1141.3 141.25,1139.0 141.50,1136.9 141.75,1135.0 142.00,1133.3 142.25,1131.9 142.50,1130.7 142.75,1129.8 143.00,1129.1 143.25,1128.7 143.50,1128.6 143.75,1128.7 144.00,1129.1 144.25,1129.8 144.50,1130.7 144.75,1131.9 145.00,1133.3 145.25,1135.0 145.50,1136.9 145.75,1139.0 146.00,1141.3 146.25,1143.7 146.50,1146.4 146.75,1149.2 147.00,1152.1 147.25,1155.2 147.50,1158.3 147.75,1161.6 148.00,1164.9 148.25,1168.3 148.50,1171.6 148.75,1175.1 149.00,1178.5 149.25,1181.9 149.50,1185.2 149.75,1188.5 150.00,1191.8 150.25,1195.0 150.50,1198.1 150.75,1201.2 151.00,1204.1 151.25,1206.9 151.50,1209.7 151.75,1212.3 152.00,1214.8 152.25,1217.2 152.50,1219.5 152.75,1221.7 153.00,1223.7 153.25,1225.6 153.50,1227.4 153.75,1229.1 154.00,1230.7 154.25,1232.2 154.50,1233.5 154.75,1234.8 155.00,1235.9 155.25,1237.0 155.50,1238.0 155.75,1238.9 156.00,1239.7 156.25,1240.5 156.50,1241.0 156.75,1241.2 157.00,1241.4 157.25,1241.5 157.50,1241.6 157.75,1241.5 158.00,1241.4 158.25,1241.1 158.50,1240.6 158.75,1240.0 159.00,1239.4 159.25,1238.7 159.50,1238.0 159.75,1237.2 160.00,1236.5 160.25,1235.6 160.50,1234.7 160.75,1233.8 161.00,1232.8 161.25,1231.8 161.50,1230.7 161.75,1229.5 162.00,1228.3 162.25,1227.1 162.50,1225.7 162.75,1224.4 163.00,1222.9 163.25,1221.4 163.50,1219.8 163.75,1218.1 164.00,1216.4 164.25,1214.6 164.50,1212.7 164.75,1210.8 165.00,1208.8 165.25,1206.7 165.50,1204.5 165.75,1202.3 166.00,1199.9 166.25,1197.6 166.50,1195.1 166.75,1192.6 167.00,1190.0 167.25,1187.3 167.50,1184.6 167.75,1181.7 168.00,1178.9 168.25,1175.9 168.50,1172.9 168.75,1169.9 169.00,1166.8 169.25,1163.6 169.50,1160.4 169.75,1157.1 170.00,1153.8 170.25,1150.5 170.50,1147.1 170.75,1143.7 171.00,1140.3 171.25,1136.9 171.50,1133.4 171.75,1130.0 172.00,1126.5 172.25,1123.0 172.50,1119.6 172.75,1116.2 173.00,1112.8 173.25,1109.4 173.50,1106.1 173.75,1102.8 174.00,1099.5 174.25,1096.3 174.50,1093.2 174.75,1090.2 175.00,1087.2 175.25,1084.3 175.50,1081.5 175.75,1078.8 176.00,1076.2 176.25,1073.7 176.50,1071.3 176.75,1069.0 177.00,1066.8 177.25,1064.8 177.50,1062.9 177.75,1061.2 178.00,1059.6 178.25,1058.1 178.50,1056.8 178.75,1055.7 179.00,1054.7 179.25,1053.8 179.50,1053.2 179.75,1052.7 180.00,1052.3 180.25,1052.1 180.50,1052.1 180.75,1052.3 181.00,1052.6 181.25,1053.1 181.50,1053.7 181.75,1054.5 182.00,1055.5 182.25,1056.6 182.50,1057.9 182.75,1059.3 183.00,1060.9 183.25,1062.6 183.50,1064.4 183.75,1066.4 184.00,1068.6 184.25,1070.8 184.50,1073.2 184.75,1075.7 185.00,1078.2 185.25,1080.9 185.50,1083.7 185.75,1086.6 186.00,1089.6 186.25,1092.6 186.50,1095.7 186.75,1098.9 187.00,1102.1 187.25,1105.4 187.50,1108.7 187.75,1112.1 188.00,1115.5 188.25,1118.9 188.50,1122.4 188.75,1125.8 189.00,1129.3 189.25,1132.7 189.50,1136.2 189.75,1139.6 190.00,1143.0 190.25,1146.4 190.50,1149.8 190.75,1153.2 191.00,1156.5 191.25,1159.7 191.50,1163.0 191.75,1166.1 192.00,1169.3 192.25,1172.3 192.50,1175.3 192.75,1178.3 193.00,1181.2 193.25,1184.0 193.50,1186.8 193.75,1189.4 194.00,1192.1 194.25,1194.6 194.50,1197.1 194.75,1199.5 195.00,1201.8 195.25,1204.1 195.50,1206.2 195.75,1208.3 196.00,1210.4 196.25,1212.3 196.50,1214.2 196.75,1216.0 197.00,1217.8 197.25,1219.5 197.50,1221.1 197.75,1222.6 198.00,1224.1 198.25,1225.5 198.50,1226.8 198.75,1228.1 199.00,1229.3 199.25,1230.5 199.50,1231.6 199.75,1232.6 200.00,1233.6 200.25,1234.6 200.50,1235.4 200.75,1236.3 201.00,1237.1 201.25,1237.8 201.50,1238.6 201.75,1239.2 202.00,1239.9 202.25,1240.4 202.50,1241.0 202.75,1241.5 203.00,1242.0 203.25,1242.5 203.50,1242.9 203.75,1243.3 204.00,1243.7 204.25,1244.0 204.50,1244.3 204.75,1244.3 205.00,1244.3 205.25,1244.3 205.50,1244.3 205.75,1244.1 206.00,1243.8 206.25,1243.4 206.50,1242.9 206.75,1242.4 207.00,1241.9 207.25,1241.3 207.50,1240.6 207.75,1239.9 208.00,1239.1 208.25,1238.2 208.50,1237.2 208.75,1236.2 209.00,1235.0 209.25,1233.8 209.50,1232.4 209.75,1231.0 210.00,1229.4 210.25,1227.8 210.50,1226.0 210.75,1224.1 211.00,1222.1 211.25,1219.9 211.50,1217.7 211.75,1215.3 212.00,1212.8 212.25,1210.2 212.50,1207.5 212.75,1204.7 213.00,1201.8 213.25,1198.7 213.50,1195.6 213.75,1192.4 214.00,1189.2 214.25,1185.9 214.50,1182.5 214.75,1179.1 215.00,1175.7 215.25,1172.3 215.50,1168.9 215.75,1165.6 216.00,1162.2 216.25,1159.0 216.50,1155.8 216.75,1152.7 217.00,1149.8 217.25,1146.9 217.50,1144.3 217.75,1141.7 218.00,1139.4 218.25,1137.3 218.50,1135.3 218.75,1133.6 219.00,1132.2 219.25,1130.9 219.50,1130.0 219.75,1129.2 220.00,1128.8 220.25,1128.6 220.50,1128.7 220.75,1129.0 221.00,1129.6 221.25,1130.5 221.50,1131.6 221.75,1133.0 222.00,1134.6 222.25,1136.5 222.50,1138.5 222.75,1140.8 223.00,1143.2 223.25,1145.8 223.50,1148.6 223.75,1151.5 224.00,1154.6 224.25,1157.7 224.50,1160.9 224.75,1164.2 225.00,1167.6 225.25,1171.0 225.50,1174.4 225.75,1177.8 226.00,1181.2 226.25,1184.5 226.50,1187.9 226.75,1191.2 227.00,1194.4 227.25,1197.5 227.50,1200.6 227.75,1203.5 228.00,1206.4 228.25,1209.1 228.50,1211.8 228.75,1214.3 229.00,1216.8 229.25,1219.1 229.50,1221.2 229.75,1223.3 230.00,1225.2 230.25,1227.1 230.50,1228.8 230.75,1230.4 231.00,1231.9 231.25,1233.2 231.50,1234.5 231.75,1235.7 232.00,1236.8 232.25,1237.8 232.50,1238.7 232.75,1239.6 233.00,1240.3 233.25,1241.0 233.50,1241.7 233.75,1242.2 234.00,1242.7 234.25,1243.2 234.50,1243.6 234.75,1244.0 235.00,1244.3 235.25,1244.3 235.50,1244.3 235.75,1244.3 236.00,1244.3 236.25,1244.3 236.50,1244.3 236.75,1244.3 237.00,1244.3 237.25,1244.3 237.50,1244.3 237.75,1244.3 238.00,1244.3 238.25,1244.3 238.50,1244.3 238.75,1244.3 239.00,1244.3 239.25,1244.3 239.50,1244.3 239.75,1244.3 240.00,1244.3 240.25,1244.3 240.50,1244.3 240.75,1244.3 241.00,1244.3 241.25,1244.3 241.50,1244.3 241.75,1244.3 242.00,1244.3 242.25,1244.3 242.50,1244.3 242.75,1244.3 243.00,1244.3 243.25,1244.3 243.50,1244.3 243.75,1244.3 244.00,1244.3 244.25,1244.3 244.50,1244.3 244.75,1244.3 245.00,1244.3 245.25,1244.3 245.50,1244.3 245.75,1244.3 246.00,1244.3 246.25,1244.3 246.50,1244.3 246.75,1244.3 247.00,1244.3 247.25,1244.2 247.50,1244.1 247.75,1244.0 248.00,1243.8 248.25,1243.6 248.50,1243.4 248.75,1243.2 249.00,1242.9 249.25,1242.5 249.50,1242.0 249.75,1241.5 250.00,1240.9 250.25,1240.2 250.50,1239.5 250.75,1238.5 251.00,1237.5 251.25,1236.3 251.50,1235.0 251.75,1233.6 252.00,1232.0 252.25,1230.2 252.50,1228.3 252.75,1226.2 253.00,1223.9 253.25,1221.5 253.50,1219.0 253.75,1216.3 254.00,1213.6 254.25,1210.7 254.50,1207.8 254.75,1204.8 255.00,1201.9 255.25,1198.9 255.50,1196.1 255.75,1193.3 256.00,1190.7 256.25,1188.2 256.50,1185.9 256.75,1183.9 257.00,1182.1 257.25,1180.6 257.50,1179.5 257.75,1178.7 258.00,1178.2 258.25,1178.1 258.50,1178.4 258.75,1179.0 259.00,1179.9 259.25,1181.2 259.50,1182.8 259.75,1184.7 260.00,1186.8 260.25,1189.1 260.50,1191.7 260.75,1194.4 261.00,1197.2 261.25,1200.1 261.50,1203.1 261.75,1206.0 262.00,1209.0 262.25,1211.9 262.50,1214.7 262.75,1217.4 263.00,1220.0 263.25,1222.5 263.50,1224.8 263.75,1227.0 264.00,1229.1 264.25,1230.9 264.50,1232.6 264.75,1234.2 265.00,1235.6 265.25,1236.8 265.50,1237.9 265.75,1238.9 266.00,1239.8 266.25,1240.5 266.50,1241.2 266.75,1241.8 267.00,1242.2 267.25,1242.6 267.50,1243.0 267.75,1243.3 268.00,1243.5 268.25,1243.7 268.50,1243.9 268.75,1244.0 269.00,1244.1 269.25,1244.2 269.50,1244.3 269.75,1244.3 270.00,1244.3 270.25,1244.3 270.50,1244.3 270.75,1244.3 271.00,1244.3 271.25,1244.3 271.50,1244.3 271.75,1244.3 272.00,1244.3 272.25,1244.3 272.50,1244.3 272.75,1244.3 273.00,1244.3 273.25,1244.3 273.50,1244.3 273.75,1244.3 274.00,1244.3 274.25,1244.3 274.50,1244.3 274.75,1244.3 275.00,1244.3 275.25,1244.3 275.50,1244.3 275.75,1244.3 276.00,1244.3 276.25,1244.3 276.50,1244.3 276.75,1244.3 277.00,1244.3 277.25,1244.3 277.50,1244.3 277.75,1244.3 278.00,1244.3 278.25,1244.3 278.50,1244.3 278.75,1244.3 279.00,1244.3 279.25,1244.3 279.50,1244.3 279.75,1244.3 280.00,1244.3 280.25,1244.3 280.50,1244.3 280.75,1244.3 281.00,1244.3 281.25,1244.3 281.50,1244.3 281.75,1244.3 282.00,1244.3 282.25,1244.3 282.50,1244.3 282.75,1244.3 283.00,1244.3 283.25,1244.3 283.50,1244.3 283.75,1244.3 284.00,1244.3 284.25,1244.3 284.50,1244.3 284.75,1244.3 285.00,1244.3 285.25,1244.3 285.50,1244.3 285.75,1244.3 286.00,1244.3 286.25,1244.3 286.50,1244.3 286.75,1244.3 287.00,1244.3 287.25,1244.3 287.50,1244.3 287.75,1244.3 288.00,1244.3 288.25,1244.2 288.50,1244.2 288.75,1244.1 289.00,1244.1 289.25,1244.0 289.50,1243.9 289.75,1243.8 290.00,1243.7 290.25,1243.5 290.50,1243.3 290.75,1243.1 291.00,1242.8 291.25,1242.5 291.50,1242.2 291.75,1241.8 292.00,1241.3 292.25,1240.8 292.50,1240.2 292.75,1239.6 293.00,1238.9 293.25,1238.1 293.50,1237.3 293.75,1236.5 294.00,1235.5 294.25,1234.6 294.50,1233.5 294.75,1232.5 295.00,1231.4 295.25,1230.4 295.50,1229.3 295.75,1228.2 296.00,1227.2 296.25,1226.2 296.50,1225.3 296.75,1224.4 297.00,1223.7 297.25,1223.0 297.50,1222.5 297.75,1222.1 298.00,1221.8 298.25,1221.6 298.50,1221.6 298.75,1221.7 299.00,1222.0 299.25,1222.4 299.50,1222.9 299.75,1223.5 300.00,1224.3 300.25,1225.1 300.50,1226.0 300.75,1227.0 301.00,1228.0 301.25,1229.1 301.50,1230.1 301.75,1231.2 302.00,1232.3 302.25,1233.3 302.50,1234.4 302.75,1235.3 303.00,1236.3 303.25,1237.2 303.50,1238.0 303.75,1238.8 304.00,1239.5 304.25,1240.1 304.50,1240.7 304.75,1241.2 305.00,1241.7 305.25,1242.1 305.50,1242.4 305.75,1242.8 306.00,1243.0 306.25,1243.3 306.50,1243.5 306.75,1243.6 307.00,1243.8 307.25,1243.9 307.50,1244.0 307.75,1244.1 308.00,1244.1 308.25,1244.2 308.50,1244.2 308.75,1244.3 309.00,1244.3 309.25,1244.3 309.50,1244.3 309.75,1244.3 310.00,1244.3 310.25,1244.3 310.50,1244.3 310.75,1244.3 311.00,1244.3 311.25,1244.3 311.50,1244.3 311.75,1244.3 312.00,1244.3 312.25,1244.3 312.50,1244.3 312.75,1244.3 313.00,1244.3 313.25,1244.3 313.50,1244.3 313.75,1244.3 314.00,1244.3 314.25,1244.3 314.50,1244.3 314.75,1244.3 315.00,1244.3 315.25,1244.3 315.50,1244.3 315.75,1244.3 316.00,1244.3 316.25,1244.3 316.50,1244.3 316.75,1244.3 317.00,1244.3 317.25,1244.3 317.50,1244.3 317.75,1244.3 318.00,1244.3 318.25,1244.3 318.50,1244.3 318.75,1244.3 319.00,1244.3 319.25,1244.3 319.50,1244.3 319.75,1244.3 320.00,1244.3 320.25,1244.3 320.50,1244.3 320.75,1244.3 321.00,1244.3 321.25,1244.3 321.50,1244.3 321.75,1244.3 322.00,1244.3 322.25,1244.3 322.50,1244.3 322.75,1244.3 323.00,1244.3 323.25,1244.3 323.50,1244.3 323.75,1244.3 324.00,1244.3" stroke="#FF0000" stroke-width="3.1" fill="none" stroke-linejoin="round"/>
<line x1="64.6" y1="1221.1" x2="64.6" y2="1243.6" stroke="#000" stroke-width="4.7" stroke-dasharray="4.3 4.45"/>
<line x1="102.5" y1="1177" x2="102.5" y2="1243.6" stroke="#000" stroke-width="4.7" stroke-dasharray="4.3 4.45"/>
<line x1="143.5" y1="1133.5" x2="143.5" y2="1243.6" stroke="#000" stroke-width="4.7" stroke-dasharray="4.3 4.45"/>
<line x1="180.4" y1="1056.3" x2="180.4" y2="1243.6" stroke="#000" stroke-width="4.7" stroke-dasharray="4.3 4.45"/>
<line x1="220.3" y1="1133.5" x2="220.3" y2="1243.6" stroke="#000" stroke-width="4.7" stroke-dasharray="4.3 4.45"/>
<line x1="258.2" y1="1177" x2="258.2" y2="1243.6" stroke="#000" stroke-width="4.7" stroke-dasharray="4.3 4.45"/>
<line x1="298.4" y1="1221.1" x2="298.4" y2="1243.6" stroke="#000" stroke-width="4.7" stroke-dasharray="4.3 4.45"/>
<path d="M242.9 1123V1244M273.3 1123V1244" stroke="#0000FF" stroke-width="3.6" fill="none"/>
<path d="M251 1132.5H265.5" stroke="#000" stroke-width="2.9"/>
<path d="M244.6 1132.5L254 1127.1V1137.9ZM271.7 1132.5L262.3 1127.1V1137.9Z" fill="#000"/>
<text x="194.3" y="1108.6" font-size="41.5">∝</text>
<text x="229.5" y="1104" font-size="34.5" font-family="Liberation Serif, serif" font-style="italic" font-weight="bold" style="font-family:'Liberation Serif',serif">σ</text>
<text x="257.4" y="1104" font-size="34.5" font-weight="bold">[n.s.]</text>
<path d="M47.7 1022V1244.6H325.5" stroke="#000" stroke-width="4.4" fill="none" stroke-linejoin="miter"/>
<path d="M47.7 1009.2L55.2 1023.5H40.2Z" fill="#000"/>
<path d="M337.5 1244.6L323.5 1237.1999999999998V1252.0Z" fill="#000"/>
<path d="M382.5 1022V1244.6H660.6" stroke="#000" stroke-width="4.4" fill="none" stroke-linejoin="miter"/>
<path d="M382.5 1009.2L390.0 1023.5H375.0Z" fill="#000"/>
<path d="M672.6 1244.6L658.6 1237.1999999999998V1252.0Z" fill="#000"/>
<text x="183.7" y="1287" font-size="34.6" text-anchor="middle">Weight Value</text>
<text x="178.6" y="1329.2" font-size="38.6" text-anchor="middle">Gaussian Error</text>
<line x1="47" y1="1334.4" x2="308.5" y2="1334.4" stroke="#000" stroke-width="2.8"/>
<text x="-1.7" y="1354.3" font-size="34">(c)</text>
<line x1="399.9" y1="1223" x2="399.9" y2="1243.6" stroke="#000" stroke-width="4.7" stroke-dasharray="4.3 4.45"/>
<line x1="437.6" y1="1178.6" x2="437.6" y2="1243.6" stroke="#000" stroke-width="4.7" stroke-dasharray="4.3 4.45"/>
<line x1="479" y1="1134.5" x2="479" y2="1243.6" stroke="#000" stroke-width="4.7" stroke-dasharray="4.3 4.45"/>
<line x1="516" y1="1057.7" x2="516" y2="1243.6" stroke="#000" stroke-width="4.7" stroke-dasharray="4.3 4.45"/>
<line x1="555.5" y1="1134.5" x2="555.5" y2="1243.6" stroke="#000" stroke-width="4.7" stroke-dasharray="4.3 4.45"/>
<line x1="593.5" y1="1178.6" x2="593.5" y2="1243.6" stroke="#000" stroke-width="4.7" stroke-dasharray="4.3 4.45"/>
<line x1="633.5" y1="1223" x2="633.5" y2="1243.6" stroke="#000" stroke-width="4.7" stroke-dasharray="4.3 4.45"/>
<line x1="412" y1="1244.6" x2="412" y2="1222.6" stroke="#FF0000" stroke-width="4.7"/>
<line x1="449.4" y1="1244.6" x2="449.4" y2="1178.6" stroke="#FF0000" stroke-width="4.7"/>
<line x1="490.3" y1="1244.6" x2="490.3" y2="1134.5" stroke="#FF0000" stroke-width="4.7"/>
<line x1="543.3" y1="1244.6" x2="543.3" y2="1134.5" stroke="#FF0000" stroke-width="4.7"/>
<line x1="581.3" y1="1244.6" x2="581.3" y2="1178.6" stroke="#FF0000" stroke-width="4.7"/>
<line x1="621" y1="1244.6" x2="621" y2="1222.6" stroke="#FF0000" stroke-width="4.7"/>
<path d="M542.2 1096.1V1134.5M554.3 1096.1V1134.5" stroke="#0000FF" stroke-width="3.9" fill="none"/>
<path d="M523 1104.6V1123.7L541.6 1114.1ZM574.5 1104.6V1123.7L555.6 1114.1Z" fill="#000"/>
<text x="532" y="1079.9" font-size="33" style="stroke:none">Δ</text>
<text x="563.3" y="1079.6" font-size="33.9" font-weight="bold">[n.s.]</text>
<text x="394.6" y="1112.7" font-size="34.8">Shift</text>
<path d="M397.8 1127.6H450.2V1121.5L462.5 1132.9L450.2 1144.3V1138.2H397.8Z" fill="#0000FF"/>
<path d="M665 1127.6H613.4V1121.5L600.8 1132.9L613.4 1144.3V1138.2H665Z" fill="#0000FF"/>
<text x="522.5" y="1287" font-size="34.6" text-anchor="middle">Weight Value</text>
<text x="523" y="1329.2" font-size="38.6" text-anchor="middle">Shift Error</text>
<line x1="434" y1="1334.4" x2="611" y2="1334.4" stroke="#000" stroke-width="2.8"/>
</g>
</svg>
</body></html>
